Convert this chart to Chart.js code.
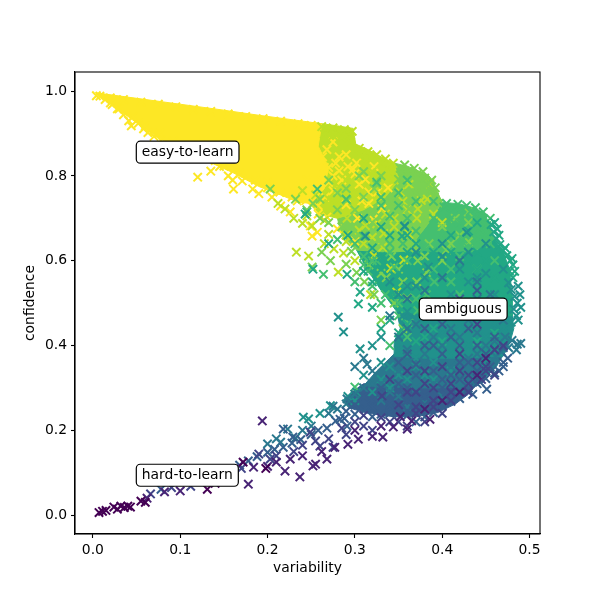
<!DOCTYPE html>
<html>
<head>
<meta charset="utf-8">
<script src="https://cdn.jsdelivr.net/npm/chart.js@4.4.0/dist/chart.umd.min.js"></script>
<style>
  html, body { margin: 0; padding: 0; background: #fff; }
  canvas { display: block; }
</style>
</head>
<body>
<canvas id="chart" width="600" height="600"></canvas>
<script>
// viridis colours, one per correctness level (0.0 .. 1.0 in steps of 0.1)
const levelColors = ['#440154', '#482475', '#414487', '#355f8d', '#2a788e', '#21918c', '#22a884', '#44bf70', '#7ad151', '#bddf26', '#fde725'];

// [variability, confidence], grouped by correctness level
const level0 = [[0.007,0.006],[0.011,0.009],[0.015,0.011],[0.024,0.019],[0.028,0.014],[0.032,0.021],[0.036,0.018],[0.04,0.021],[0.043,0.019],[0.055,0.033],[0.06,0.03],[0.131,0.061],[0.172,0.125],[0.14,0.075],[0.198,0.11]];
const level1 = [[0.10,0.057],[0.178,0.073],[0.184,0.113],[0.194,0.222],[0.22,0.104],[0.226,0.132],[0.237,0.09],[0.255,0.12],[0.268,0.132],[0.252,0.116],[0.277,0.16],[0.292,0.167],[0.32,0.186],[0.304,0.179],[0.332,0.184],[0.344,0.208],[0.36,0.203],[0.365,0.222],[0.15,0.09],[0.16,0.10],[0.20,0.115],[0.21,0.125],[0.24,0.14],[0.262,0.15],[0.30,0.20],[0.33,0.21],[0.352,0.232],[0.38,0.25],[0.386,0.226],[0.40,0.27],[0.42,0.29],[0.44,0.33],[0.45,0.37],[0.062,0.04],[0.082,0.055]];
const level2 = [[0.112,0.068],[0.19,0.144],[0.203,0.132],[0.249,0.196],[0.26,0.163],[0.275,0.16],[0.331,0.281],[0.34,0.22],[0.31,0.21],[0.29,0.19],[0.27,0.18],[0.23,0.15],[0.21,0.14],[0.17,0.11],[0.13,0.08],[0.09,0.065],[0.35,0.26],[0.37,0.255],[0.39,0.27],[0.41,0.29],[0.43,0.31],[0.445,0.32],[0.46,0.33],[0.45,0.35],[0.40,0.24],[0.37,0.24],[0.36,0.29],[0.34,0.32],[0.38,0.31],[0.42,0.34],[0.44,0.36],[0.46,0.39],[0.47,0.40],[0.35,0.22],[0.32,0.20],[0.30,0.22],[0.285,0.205],[0.255,0.175],[0.24,0.165],[0.158,0.1],[0.066,0.05],
    [0.39,0.255],[0.41,0.27],[0.43,0.29],[0.38,0.22],[0.36,0.21],[0.33,0.23],[0.31,0.235],[0.37,0.29],[0.39,0.30],[0.41,0.31],[0.43,0.33],[0.45,0.34],[0.40,0.35],[0.38,0.34],[0.36,0.34],[0.42,0.38],[0.44,0.45]];
const level3 = [[0.455,0.35],[0.47,0.36],[0.465,0.34],[0.45,0.322],[0.44,0.31],[0.43,0.30],[0.435,0.285],[0.42,0.275],[0.41,0.268],[0.40,0.258],[0.39,0.242],[0.38,0.232],[0.37,0.22],[0.36,0.235],[0.35,0.24],[0.34,0.252],[0.33,0.238],[0.32,0.232],[0.312,0.25],[0.30,0.238],[0.288,0.228],[0.278,0.222],[0.268,0.205],[0.258,0.2],[0.25,0.19],[0.238,0.178],[0.228,0.17],[0.218,0.16],[0.208,0.155],[0.2,0.148],[0.188,0.138],[0.178,0.128],[0.168,0.118],[0.36,0.30],[0.38,0.28],[0.40,0.30],[0.42,0.32],[0.44,0.34],[0.43,0.36],[0.41,0.33],[0.39,0.34],[0.37,0.33],[0.35,0.31],[0.33,0.29],[0.32,0.27],[0.34,0.26],[0.36,0.27],[0.443,0.314],[0.451,0.297],[0.441,0.321],[0.405,0.29],[0.218,0.203],[0.229,0.184],[0.283,0.226],[0.291,0.21],[0.078,0.061],[0.46,0.39],[0.42,0.40],[0.39,0.40],
    [0.475,0.37],[0.47,0.35],[0.46,0.335],[0.40,0.38],[0.42,0.36],[0.38,0.40],[0.36,0.38],[0.44,0.40],[0.46,0.42],[0.43,0.44],[0.40,0.45],[0.38,0.44],[0.41,0.42],[0.37,0.355],[0.35,0.36],[0.45,0.38],[0.47,0.395],[0.38,0.26],[0.36,0.245],[0.34,0.24],[0.32,0.255],[0.30,0.26],[0.29,0.245],[0.31,0.28],[0.33,0.30],[0.35,0.295],[0.40,0.32],[0.42,0.51],[0.44,0.53]];
const level4 = [[0.486,0.403],[0.48,0.412],[0.472,0.42],[0.476,0.395],[0.468,0.385],[0.461,0.375],[0.223,0.203],[0.25,0.21],[0.27,0.24],[0.28,0.25],[0.29,0.262],[0.31,0.30],[0.32,0.34],[0.33,0.31],[0.35,0.34],[0.36,0.36],[0.38,0.38],[0.40,0.40],[0.42,0.42],[0.44,0.43],[0.45,0.40],[0.43,0.37],[0.41,0.35],[0.39,0.31],[0.37,0.30],[0.35,0.28],[0.33,0.27],[0.36,0.44],[0.34,0.47],[0.38,0.49],[0.40,0.47],[0.42,0.49],[0.44,0.51],[0.46,0.49],[0.30,0.35],[0.31,0.37],[0.21,0.18],[0.20,0.168],[0.232,0.182],[0.24,0.20],[0.215,0.172],[0.275,0.257],[0.291,0.274],[0.314,0.356],[0.47,0.46],[0.455,0.52],
    [0.49,0.405],[0.485,0.39],[0.40,0.56],[0.42,0.60],[0.44,0.55],[0.38,0.53],[0.36,0.51],[0.45,0.48],[0.43,0.46],[0.41,0.44],[0.39,0.42],[0.37,0.45],[0.35,0.42],[0.36,0.39],[0.38,0.36],[0.42,0.355],[0.44,0.38],[0.46,0.41],[0.34,0.29],[0.36,0.255],[0.38,0.265],[0.40,0.28],[0.42,0.30],[0.44,0.325],[0.32,0.31],[0.30,0.285]];
const level5 = [[0.476,0.548],[0.479,0.532],[0.483,0.516],[0.486,0.50],[0.482,0.486],[0.485,0.47],[0.479,0.455],[0.471,0.442],[0.281,0.467],[0.287,0.432],[0.306,0.392],[0.241,0.231],[0.247,0.227],[0.32,0.40],[0.33,0.42],[0.35,0.39],[0.37,0.37],[0.39,0.36],[0.41,0.38],[0.43,0.40],[0.45,0.42],[0.46,0.45],[0.44,0.47],[0.42,0.45],[0.40,0.43],[0.38,0.46],[0.36,0.48],[0.35,0.52],[0.37,0.54],[0.39,0.50],[0.41,0.52],[0.43,0.55],[0.45,0.57],[0.47,0.58],[0.33,0.36],[0.31,0.33],[0.292,0.28],[0.30,0.27],[0.32,0.29],[0.34,0.30],[0.36,0.32],[0.38,0.33],[0.312,0.658],[0.357,0.682],[0.384,0.585],[0.40,0.64],[0.26,0.24],[0.272,0.258],[0.302,0.29],
    [0.487,0.54],[0.489,0.52],[0.49,0.49],[0.487,0.46],[0.428,0.667],[0.43,0.62],[0.45,0.64],[0.40,0.61],[0.37,0.62],[0.38,0.56],[0.36,0.54],[0.34,0.55],[0.42,0.58],[0.44,0.56],[0.46,0.52],[0.47,0.50],[0.41,0.49],[0.39,0.48],[0.355,0.47],[0.37,0.35],[0.39,0.32],[0.41,0.34],[0.43,0.33],[0.45,0.36],[0.35,0.33],[0.33,0.32],[0.34,0.35]];
const level6 = [[0.456,0.685],[0.459,0.668],[0.462,0.652],[0.466,0.638],[0.47,0.624],[0.474,0.612],[0.478,0.60],[0.481,0.59],[0.477,0.575],[0.481,0.56],[0.252,0.58],[0.291,0.568],[0.306,0.526],[0.304,0.498],[0.32,0.49],[0.34,0.46],[0.33,0.44],[0.35,0.43],[0.37,0.41],[0.39,0.44],[0.41,0.47],[0.43,0.50],[0.45,0.53],[0.46,0.56],[0.44,0.58],[0.42,0.56],[0.40,0.57],[0.38,0.59],[0.36,0.62],[0.35,0.57],[0.33,0.58],[0.32,0.63],[0.34,0.66],[0.37,0.64],[0.39,0.62],[0.41,0.62],[0.43,0.60],[0.45,0.60],[0.44,0.62],[0.243,0.71],[0.27,0.64],[0.292,0.66],[0.31,0.70],
    [0.46,0.69],[0.463,0.675],[0.465,0.66],[0.472,0.63],[0.48,0.605],[0.483,0.575],[0.357,0.68],[0.354,0.658],[0.33,0.68],[0.44,0.69],[0.43,0.67],[0.41,0.66],[0.36,0.66],[0.33,0.61],[0.31,0.575],[0.32,0.55],[0.345,0.52],[0.36,0.45],[0.38,0.42],[0.40,0.41],[0.42,0.40],[0.44,0.41],[0.46,0.43],[0.47,0.475]];
const level7 = [[0.402,0.727],[0.412,0.724],[0.422,0.721],[0.432,0.716],[0.441,0.708],[0.447,0.696],[0.451,0.683],[0.264,0.568],[0.30,0.55],[0.32,0.54],[0.33,0.50],[0.35,0.47],[0.362,0.452],[0.372,0.482],[0.382,0.52],[0.391,0.55],[0.41,0.58],[0.42,0.61],[0.43,0.63],[0.44,0.65],[0.45,0.66],[0.455,0.64],[0.40,0.66],[0.39,0.70],[0.37,0.67],[0.355,0.64],[0.34,0.62],[0.325,0.60],[0.31,0.61],[0.30,0.64],[0.28,0.65],[0.36,0.70],[0.35,0.73],[0.33,0.75],[0.38,0.63],[0.40,0.50],[0.42,0.52],[0.34,0.40],[0.36,0.42],[0.30,0.302],[0.315,0.575],[0.345,0.585],[0.44,0.58],[0.46,0.60],[0.42,0.69],[0.39,0.74],
    [0.405,0.735],[0.418,0.733],[0.428,0.73],[0.438,0.725],[0.447,0.715],[0.455,0.70],[0.257,0.769],[0.245,0.715],[0.31,0.658],[0.29,0.745],[0.33,0.73],[0.325,0.785],[0.34,0.705],[0.409,0.698],[0.424,0.651],[0.443,0.675],[0.35,0.76],[0.36,0.79],[0.37,0.74],[0.34,0.64],[0.36,0.60],[0.39,0.58],[0.41,0.55],[0.37,0.51],[0.35,0.50],[0.335,0.52],[0.32,0.60],[0.31,0.59]];
const level8 = [[0.352,0.818],[0.362,0.812],[0.372,0.805],[0.38,0.795],[0.384,0.78],[0.387,0.765],[0.391,0.75],[0.396,0.735],[0.251,0.585],[0.262,0.62],[0.272,0.60],[0.29,0.592],[0.302,0.572],[0.311,0.55],[0.322,0.52],[0.296,0.622],[0.316,0.59],[0.336,0.56],[0.345,0.50],[0.36,0.512],[0.371,0.55],[0.382,0.572],[0.40,0.60],[0.41,0.64],[0.42,0.66],[0.43,0.69],[0.40,0.68],[0.381,0.70],[0.362,0.722],[0.341,0.742],[0.322,0.77],[0.31,0.81],[0.33,0.80],[0.35,0.792],[0.37,0.76],[0.291,0.742],[0.28,0.72],[0.26,0.70],[0.203,0.769],[0.232,0.745],[0.252,0.735],[0.27,0.69],[0.285,0.68],[0.33,0.64],[0.35,0.66],[0.305,0.66],[0.318,0.71],[0.355,0.44],[0.33,0.46],
    [0.357,0.826],[0.368,0.818],[0.378,0.81],[0.388,0.79],[0.392,0.772],[0.27,0.79],[0.29,0.77],[0.31,0.75],[0.30,0.72],[0.32,0.69],[0.28,0.76],[0.305,0.80],[0.325,0.78],[0.26,0.745],[0.245,0.72],[0.342,0.61],[0.362,0.63],[0.385,0.64],[0.405,0.625],[0.43,0.645],[0.372,0.60],[0.35,0.58],[0.33,0.57],[0.355,0.55],[0.38,0.61],[0.415,0.70],[0.43,0.715],[0.322,0.64]];
const level9 = [[0.262,0.916],[0.275,0.913],[0.288,0.909],[0.297,0.905],[0.305,0.865],[0.315,0.857],[0.325,0.85],[0.335,0.84],[0.344,0.83],[0.247,0.611],[0.281,0.573],[0.251,0.682],[0.348,0.526],[0.233,0.62],[0.23,0.70],[0.24,0.688],[0.22,0.722],[0.265,0.64],[0.276,0.628],[0.287,0.618],[0.31,0.64],[0.322,0.612],[0.332,0.632],[0.341,0.582],[0.356,0.602],[0.362,0.662],[0.371,0.70],[0.376,0.742],[0.362,0.78],[0.352,0.762],[0.386,0.782],[0.291,0.70],[0.312,0.683],[0.27,0.662],[0.333,0.664],[0.30,0.60],[0.212,0.735],[0.318,0.52],[0.29,0.66],[0.345,0.70],[0.28,0.74],[0.298,0.76],[0.32,0.80],[0.345,0.79],[0.355,0.74],
    [0.305,0.85],[0.318,0.84],[0.33,0.83],[0.31,0.826],[0.32,0.81],[0.34,0.81],[0.295,0.88],[0.285,0.89],[0.275,0.895],[0.265,0.898],[0.29,0.79],[0.28,0.77],[0.27,0.745],[0.255,0.755],[0.24,0.765],[0.335,0.71],[0.345,0.68],[0.36,0.72],[0.372,0.722],[0.383,0.745],[0.39,0.71],[0.40,0.69],[0.325,0.687],[0.305,0.672],[0.29,0.645],[0.32,0.655],[0.265,0.695],[0.245,0.706]];
const level10 = [[0.004,0.989],[0.02,0.984],[0.035,0.98],[0.055,0.974],[0.075,0.969],[0.095,0.963],[0.115,0.957],[0.135,0.952],[0.155,0.946],[0.175,0.94],[0.195,0.935],[0.215,0.929],[0.235,0.923],[0.25,0.919],[0.008,0.988],[0.014,0.98],[0.022,0.968],[0.028,0.958],[0.035,0.944],[0.041,0.93],[0.044,0.918],[0.052,0.924],[0.058,0.911],[0.063,0.902],[0.07,0.893],[0.078,0.884],[0.088,0.872],[0.1,0.862],[0.118,0.848],[0.14,0.836],[0.12,0.797],[0.135,0.811],[0.145,0.822],[0.155,0.80],[0.16,0.79],[0.161,0.769],[0.171,0.788],[0.183,0.769],[0.2,0.785],[0.19,0.758],[0.205,0.75],[0.215,0.729],[0.226,0.715],[0.234,0.741],[0.249,0.682],[0.257,0.667],[0.268,0.703],[0.28,0.675],[0.251,0.658],[0.258,0.71],[0.30,0.646],[0.321,0.698],[0.303,0.70],[0.308,0.741],[0.298,0.816],[0.285,0.79],[0.275,0.765],[0.27,0.82],[0.263,0.845],[0.29,0.85],[0.305,0.78],[0.316,0.762],[0.331,0.722],[0.29,0.732],[0.245,0.79],[0.232,0.78],[0.222,0.761],
    [0.02,0.972],[0.03,0.958],[0.046,0.94],[0.06,0.918],[0.076,0.9],[0.092,0.882],[0.11,0.862],[0.13,0.843],[0.15,0.823],[0.168,0.806],[0.186,0.79],[0.2,0.772],[0.214,0.762],[0.228,0.75],[0.244,0.742],[0.258,0.73],[0.266,0.75],[0.27,0.785],[0.275,0.80],[0.268,0.862],[0.275,0.88],[0.282,0.845],[0.292,0.822],[0.302,0.83],[0.312,0.792],[0.322,0.822],[0.282,0.812],[0.30,0.805],[0.316,0.735],[0.326,0.762],[0.338,0.772],[0.262,0.79],[0.278,0.83],[0.265,0.82]];

// outlines of the areas where the crosses overlap into solid colour
const core3 = [[0.44,0.31],[0.43,0.285],[0.415,0.262],[0.395,0.242],[0.37,0.232],[0.345,0.232],[0.315,0.24],[0.295,0.252],[0.287,0.272],[0.298,0.292],[0.31,0.31],[0.36,0.305],[0.40,0.305]];
const core4 = [[0.47,0.378],[0.462,0.35],[0.452,0.33],[0.44,0.305],[0.40,0.30],[0.36,0.30],[0.31,0.305],[0.325,0.34],[0.34,0.37],[0.345,0.38],[0.40,0.375],[0.44,0.378]];
const core5 = [[0.48,0.475],[0.482,0.44],[0.478,0.41],[0.47,0.375],[0.42,0.37],[0.38,0.37],[0.345,0.375],[0.345,0.41],[0.352,0.44],[0.348,0.48],[0.40,0.475],[0.44,0.475]];
const core6 = [[0.46,0.65],[0.47,0.62],[0.477,0.58],[0.48,0.52],[0.48,0.47],[0.44,0.47],[0.40,0.47],[0.348,0.48],[0.33,0.53],[0.314,0.58],[0.302,0.625],[0.34,0.62],[0.375,0.625],[0.40,0.62],[0.44,0.625]];
const core7 = [[0.40,0.738],[0.42,0.734],[0.437,0.724],[0.449,0.71],[0.455,0.68],[0.46,0.65],[0.44,0.625],[0.40,0.62],[0.375,0.625],[0.37,0.65],[0.385,0.69]];
const core8 = [[0.345,0.83],[0.36,0.823],[0.375,0.81],[0.385,0.80],[0.39,0.785],[0.395,0.76],[0.40,0.738],[0.385,0.69],[0.37,0.65],[0.375,0.625],[0.34,0.62],[0.302,0.625],[0.285,0.66],[0.28,0.70],[0.31,0.72],[0.335,0.75],[0.35,0.79]];
const core9 = [[0.255,0.925],[0.28,0.918],[0.298,0.912],[0.301,0.875],[0.315,0.862],[0.33,0.845],[0.345,0.83],[0.35,0.79],[0.335,0.75],[0.31,0.72],[0.28,0.70],[0.26,0.71],[0.245,0.74],[0.25,0.78],[0.258,0.83],[0.25,0.88]];
const core10 = [[0.003,0.996],[0.05,0.983],[0.10,0.969],[0.15,0.955],[0.19,0.943],[0.23,0.932],[0.262,0.923],[0.258,0.87],[0.27,0.82],[0.265,0.77],[0.25,0.735],[0.235,0.738],[0.215,0.755],[0.19,0.775],[0.16,0.808],[0.12,0.845],[0.09,0.872],[0.06,0.91],[0.035,0.948],[0.015,0.978]];

const xTicks = [0.0, 0.1, 0.2, 0.3, 0.4, 0.5];
const yTicks = [0.0, 0.2, 0.4, 0.6, 0.8, 1.0];

const noteLabels = ['easy-to-learn', 'ambiguous', 'hard-to-learn'];
const noteX = [0.056, 0.380, 0.056];
const noteY = [0.856, 0.486, 0.094];

const levels = [level0, level1, level2, level3, level4, level5, level6, level7, level8, level9, level10];
const coreLevels = [3, 4, 5, 6, 7, 8, 9, 10];
const cores = [core3, core4, core5, core6, core7, core8, core9, core10];

const toXY = pts => pts.map(p => ({ x: p[0], y: p[1] }));

const datasets = [];
levels.forEach((pts, i) => {
    datasets.push({
        type: 'scatter',
        data: toXY(pts),
        pointStyle: 'crossRot',
        pointRadius: 5.9,
        pointHoverRadius: 5.9,
        pointBorderWidth: 2,
        borderColor: levelColors[i],
        backgroundColor: levelColors[i],
        order: i
    });
});
cores.forEach((pts, i) => {
    const c = levelColors[coreLevels[i]];
    datasets.push({
        type: 'line',
        data: toXY(pts),
        borderColor: c,
        borderWidth: 1,
        backgroundColor: c,
        fill: 'shape',
        pointRadius: 0,
        tension: 0,
        order: 30 - coreLevels[i]
    });
});

const FONT = 'DejaVu Sans';
Chart.defaults.font.family = FONT;
Chart.defaults.color = '#000';

// box outline and the three boxed notes
const framePlugin = {
    id: 'frame',
    afterDraw(chart) {
        const { ctx, chartArea: a, scales } = chart;
        ctx.save();
        ctx.strokeStyle = '#000';
        ctx.lineWidth = 1.1;
        ctx.strokeRect(a.left, a.top, a.right - a.left, a.bottom - a.top);

        ctx.font = '13.9px "' + FONT + '"';
        ctx.textBaseline = 'middle';
        ctx.textAlign = 'left';
        noteLabels.forEach((t, i) => {
            const px = scales.x.getPixelForValue(noteX[i]);
            const py = scales.y.getPixelForValue(noteY[i]);
            const w = ctx.measureText(t).width + 11;
            const h = 22, r = 4;
            const bx = px - 5.5, by = py - h / 2;
            ctx.beginPath();
            ctx.moveTo(bx + r, by);
            ctx.arcTo(bx + w, by, bx + w, by + h, r);
            ctx.arcTo(bx + w, by + h, bx, by + h, r);
            ctx.arcTo(bx, by + h, bx, by, r);
            ctx.arcTo(bx, by, bx + w, by, r);
            ctx.closePath();
            ctx.fillStyle = '#fff';
            ctx.fill();
            ctx.lineWidth = 1.2;
            ctx.stroke();
            ctx.fillStyle = '#000';
            ctx.fillText(t, px, py + 0.5);
        });
        ctx.restore();
    }
};

new Chart(document.getElementById('chart'), {
    type: 'scatter',
    data: { datasets: datasets },
    options: {
        responsive: false,
        animation: false,
        events: [],
        layout: { padding: { left: 0, right: 60, top: 72, bottom: 0 } },
        plugins: { legend: { display: false }, tooltip: { enabled: false } },
        scales: {
            x: {
                type: 'linear',
                min: -0.0205,
                max: 0.512,
                afterBuildTicks: s => { s.ticks = xTicks.map(v => ({ value: v })); },
                afterFit: s => { s.height = 66; },
                ticks: { font: { size: 13.9 }, padding: 4, maxRotation: 0, callback: v => v.toFixed(1) },
                grid: { drawOnChartArea: false, drawTicks: true, tickLength: 4, tickColor: '#000', tickWidth: 1.1 },
                border: { display: true, color: '#000', width: 1.1 },
                title: { display: true, text: 'variability', font: { size: 13.9 }, padding: { top: 0, bottom: 23 } }
            },
            y: {
                type: 'linear',
                min: -0.0445,
                max: 1.045,
                afterBuildTicks: s => { s.ticks = yTicks.map(v => ({ value: v })); },
                afterFit: s => { s.width = 75; },
                ticks: { font: { size: 13.9 }, padding: 4, callback: v => v.toFixed(1) },
                grid: { drawOnChartArea: false, drawTicks: true, tickLength: 4, tickColor: '#000', tickWidth: 1.1 },
                border: { display: true, color: '#000', width: 1.1 },
                title: { display: true, text: 'confidence', font: { size: 13.9 }, padding: { top: 22, bottom: 0 } }
            }
        }
    },
    plugins: [framePlugin]
});
</script>
</body>
</html>
